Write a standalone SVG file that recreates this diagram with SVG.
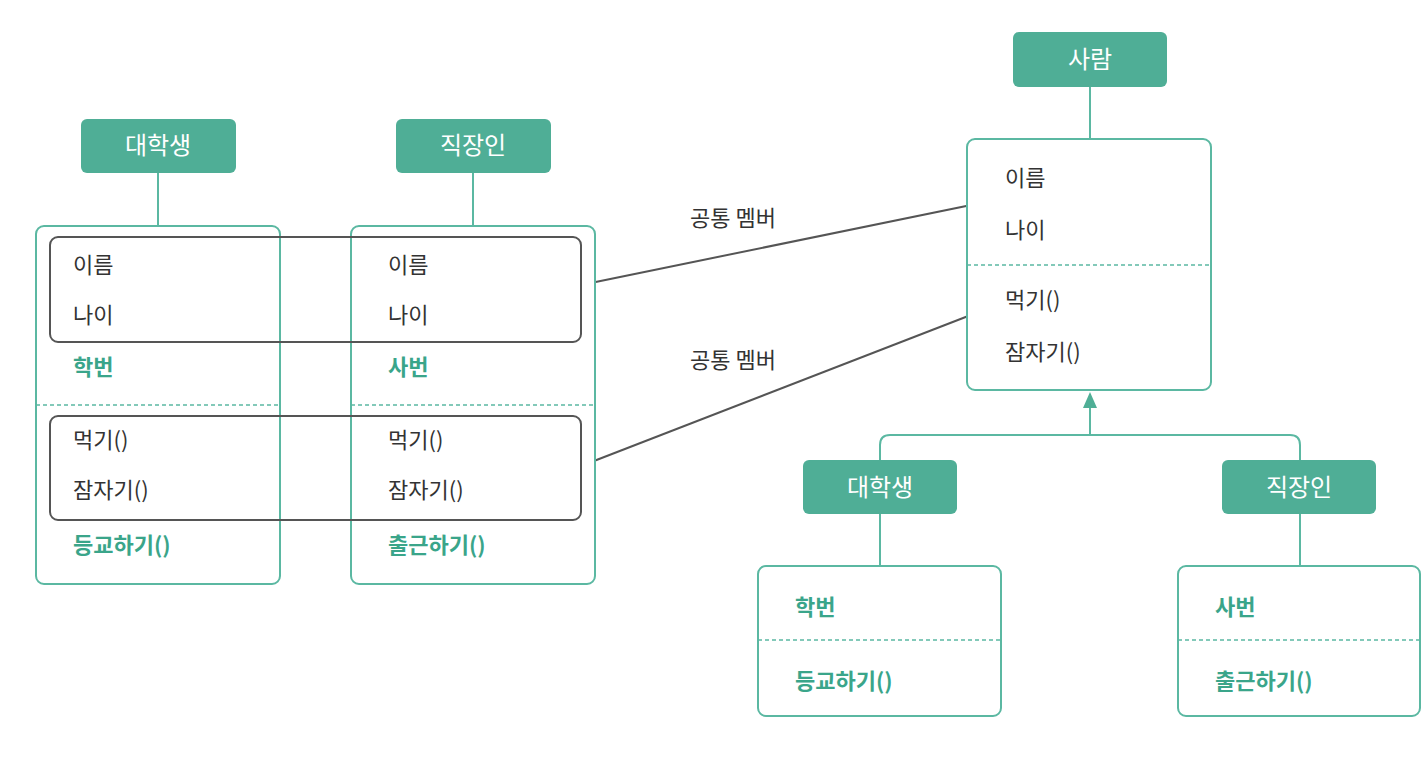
<svg xmlns="http://www.w3.org/2000/svg" width="1424" height="766" viewBox="0 0 1424 766">
<style>
.hd{fill:#4fae96}
.ht{fill:#fff;font:24px "Noto Sans CJK KR","Noto Sans",sans-serif;text-anchor:middle}
.bx{fill:#fff;stroke:#5bb8a2;stroke-width:2}
.ln{stroke:#5bb8a2;stroke-width:2;fill:none}
.ds{stroke:#5bb8a2;stroke-width:1.5;stroke-dasharray:4 3}
.t{fill:#333;font:22px "Noto Sans CJK KR","Noto Sans",sans-serif}
.g{fill:#3aa58a;font:bold 22px "Noto Sans CJK KR","Noto Sans",sans-serif}
.gr{fill:none;stroke:#555;stroke-width:2}
.ar{stroke:#555;stroke-width:2;fill:none}
</style>
<defs>
<marker id="a" markerWidth="10" markerHeight="10" refX="9" refY="5" orient="auto" markerUnits="userSpaceOnUse" viewBox="0 0 10 10"><path d="M0,0L10,5L0,10L3,5z" fill="#555"/></marker>
<marker id="b" markerWidth="14" markerHeight="14" refX="7" refY="2" orient="auto" markerUnits="userSpaceOnUse" viewBox="0 0 14 14"><path d="M7,0L13,13L7,10L1,13z" fill="#4fae96" transform="rotate(90 7 7)"/></marker>
</defs>
<rect width="1424" height="766" fill="#fff"/>
<g id="connectors">
<line class="ln" x1="158" y1="173" x2="158" y2="226"/>
<line class="ln" x1="473" y1="173" x2="473" y2="226"/>
<line class="ln" x1="1090" y1="87" x2="1090" y2="139"/>
<line class="ln" x1="880" y1="514" x2="880" y2="566"/>
<line class="ln" x1="1300" y1="514" x2="1300" y2="566"/>
<path class="ln" d="M880,460V445Q880,435 890,435H1290Q1300,435 1300,445V460"/>
<line class="ln" x1="1090" y1="435" x2="1090" y2="398"/>
<path d="M1090,392L1097,408L1083,408z" fill="#4fae96"/>
<line class="ar" x1="581" y1="285" x2="976" y2="204" marker-end="url(#a)"/>
<line class="ar" x1="581" y1="466" x2="976" y2="313" marker-end="url(#a)"/>
<text class="t" x="690" y="226">공통 멤버</text>
<text class="t" x="690" y="368">공통 멤버</text>
</g>
<g id="left-student">
<rect class="hd" x="81" y="119" width="155" height="54" rx="6"/><text class="ht" x="158" y="154">대학생</text>
<rect class="bx" x="36" y="226" width="244" height="358" rx="8"/>
<line class="ds" x1="36" y1="405" x2="280" y2="405"/>
</g>
<g id="left-worker">
<rect class="hd" x="396" y="119" width="155" height="54" rx="6"/><text class="ht" x="473" y="154">직장인</text>
<rect class="bx" x="351" y="226" width="244" height="358" rx="8"/>
<line class="ds" x1="351" y1="405" x2="595" y2="405"/>
</g>
<g id="common-fields">
<rect class="gr" x="50" y="237" width="531" height="105" rx="8"/>
<rect class="gr" x="50" y="416" width="531" height="104" rx="8"/>
</g>
<g id="left-texts">
<text class="t" x="73" y="273">이름</text><text class="t" x="73" y="323">나이</text>
<text class="g" x="73" y="375">학번</text>
<text class="t" x="73" y="448">먹기()</text><text class="t" x="73" y="498">잠자기()</text>
<text class="g" x="73" y="553">등교하기()</text>
<text class="t" x="388" y="273">이름</text><text class="t" x="388" y="323">나이</text>
<text class="g" x="388" y="375">사번</text>
<text class="t" x="388" y="448">먹기()</text><text class="t" x="388" y="498">잠자기()</text>
<text class="g" x="388" y="553">출근하기()</text>
</g>
<g id="person">
<rect class="hd" x="1013" y="32" width="154" height="55" rx="6"/><text class="ht" x="1090" y="68">사람</text>
<rect class="bx" x="967" y="139" width="244" height="251" rx="8"/>
<line class="ds" x1="967" y1="265" x2="1211" y2="265"/>
<text class="t" x="1005" y="186">이름</text><text class="t" x="1005" y="238">나이</text>
<text class="t" x="1005" y="308">먹기()</text><text class="t" x="1005" y="360">잠자기()</text>
</g>
<g id="student">
<rect class="hd" x="803" y="460" width="154" height="54" rx="6"/><text class="ht" x="880" y="496">대학생</text>
<rect class="bx" x="758" y="566" width="243" height="150" rx="8"/>
<line class="ds" x1="758" y1="640" x2="1001" y2="640"/>
<text class="g" x="795" y="615">학번</text><text class="g" x="795" y="689">등교하기()</text>
</g>
<g id="worker">
<rect class="hd" x="1222" y="460" width="154" height="54" rx="6"/><text class="ht" x="1299" y="496">직장인</text>
<rect class="bx" x="1178" y="566" width="242" height="150" rx="8"/>
<line class="ds" x1="1178" y1="640" x2="1420" y2="640"/>
<text class="g" x="1215" y="615">사번</text><text class="g" x="1215" y="689">출근하기()</text>
</g>
</svg>
